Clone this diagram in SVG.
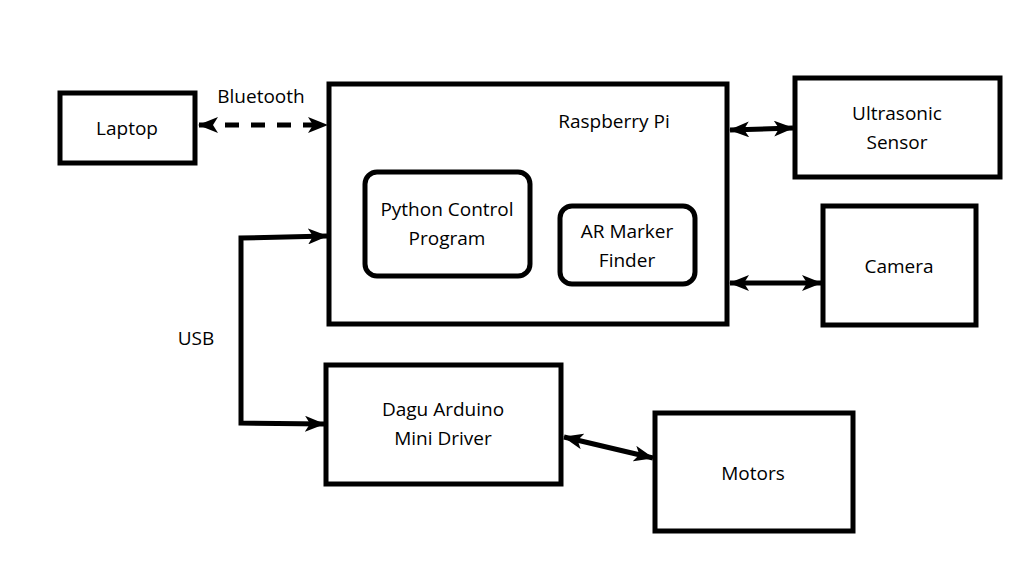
<svg xmlns="http://www.w3.org/2000/svg" width="1024" height="585" viewBox="0 0 1024 585">
<style>
.b{fill:#fff;stroke:#000;stroke-width:5}
.t{font-family:"Open Sans","Liberation Sans",sans-serif;font-size:19px;fill:#000;text-anchor:middle}
.c{fill:none;stroke:#000;stroke-width:5}
</style>
<defs>
<marker id="a" markerUnits="userSpaceOnUse" markerWidth="20" markerHeight="16" viewBox="0 0 20 16" refX="19" refY="8" orient="auto-start-reverse">
<path d="M0,0 L20,8 L0,16 L5,8 z" fill="#000"/>
</marker>
</defs>
<rect width="1024" height="585" fill="#fff"/>
<g id="connectors">
<line class="c" x1="199" y1="125" x2="327" y2="125" stroke-dasharray="14,12" marker-start="url(#a)" marker-end="url(#a)"/>
<polyline class="c" points="324,424 241,423 241,238 327,236" marker-start="url(#a)" marker-end="url(#a)"/>
<line class="c" x1="730" y1="130" x2="793" y2="128" marker-start="url(#a)" marker-end="url(#a)"/>
<line class="c" x1="730" y1="283" x2="821" y2="283" marker-start="url(#a)" marker-end="url(#a)"/>
<line class="c" x1="564" y1="437" x2="653" y2="458" marker-start="url(#a)" marker-end="url(#a)"/>
<text class="t" x="261" y="103">Bluetooth</text>
<text class="t" x="196" y="345">USB</text>
</g>
<g id="laptop"><rect class="b" x="60" y="93" width="135" height="70"/><text class="t" x="127" y="135">Laptop</text></g>
<g id="rpi"><rect class="b" x="329" y="84" width="398" height="240" stroke-width="4"/><text class="t" x="614" y="128">Raspberry Pi</text></g>
<g id="python"><rect class="b" x="365" y="172" width="165" height="104" rx="12" stroke-width="4"/><text class="t" x="447" y="216">Python Control</text><text class="t" x="447" y="245">Program</text></g>
<g id="ar"><rect class="b" x="560" y="206" width="135" height="78" rx="12" stroke-width="4"/><text class="t" x="627" y="238">AR Marker</text><text class="t" x="627" y="267">Finder</text></g>
<g id="ultrasonic"><rect class="b" x="795" y="78" width="205" height="99"/><text class="t" x="897" y="120">Ultrasonic</text><text class="t" x="897" y="149">Sensor</text></g>
<g id="camera"><rect class="b" x="823" y="206" width="153" height="119"/><text class="t" x="899" y="273">Camera</text></g>
<g id="dagu"><rect class="b" x="326" y="365" width="235" height="119" stroke-width="4"/><text class="t" x="443" y="416">Dagu Arduino</text><text class="t" x="443" y="445">Mini Driver</text></g>
<g id="motors"><rect class="b" x="655" y="413" width="198" height="118"/><text class="t" x="753" y="480">Motors</text></g>
</svg>
